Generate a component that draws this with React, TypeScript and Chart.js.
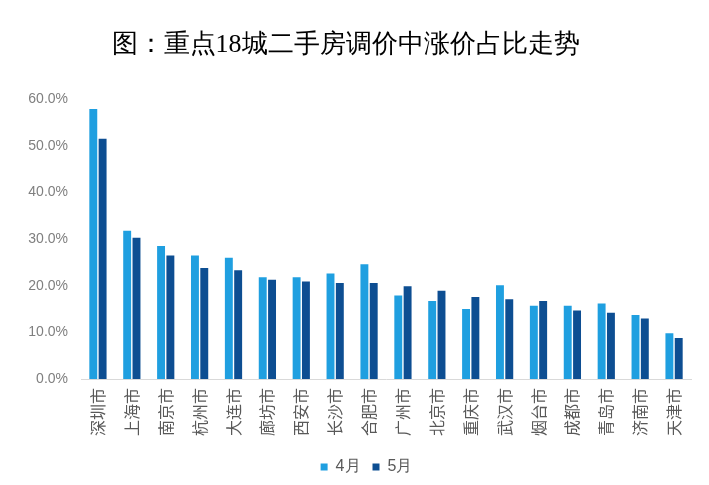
import React, { useEffect, useRef } from "react";
import { Chart, registerables } from "chart.js";

Chart.register(...registerables);

const TITLE = "图：重点18城二手房调价中涨价占比走势";
const CITIES = ["深圳市", "上海市", "南京市", "杭州市", "大连市", "廊坊市", "西安市", "长沙市", "合肥市", "广州市", "北京市", "重庆市", "武汉市", "烟台市", "成都市", "青岛市", "济南市", "天津市"];
const APRIL = [57.9, 31.8, 28.5, 26.5, 26.0, 21.8, 21.8, 22.6, 24.6, 17.9, 16.7, 15.0, 20.1, 15.7, 15.7, 16.2, 13.7, 9.8];
const MAY = [51.5, 30.3, 26.5, 23.8, 23.3, 21.3, 20.9, 20.6, 20.6, 19.9, 18.9, 17.6, 17.1, 16.7, 14.7, 14.2, 13.0, 8.8];
const SERIES_NAMES = ["4月", "5月"];
const Y_TICKS = [0, 10, 20, 30, 40, 50, 60];

const legendShift = {
  id: "legendShift",
  afterLayout(chart: any) {
    const l = chart.legend;
    if (!l) return;
    const dx = 21;
    l.left += dx;
    l.right += dx;
  },
};

export default function App() {
  const ref = useRef<HTMLCanvasElement>(null);
  useEffect(() => {
    if (!ref.current) return;
    const chart = new Chart(ref.current, {
      type: "bar",
      data: {
        labels: CITIES,
        datasets: [
          { label: SERIES_NAMES[0], data: APRIL, backgroundColor: "#1f9fe0", barPercentage: 0.85, categoryPercentage: 0.55 },
          { label: SERIES_NAMES[1], data: MAY, backgroundColor: "#0d4e92", barPercentage: 0.85, categoryPercentage: 0.55 },
        ],
      },
      plugins: [legendShift],
      options: {
        animation: false,
        responsive: false,
        layout: { padding: { left: 0, right: 18, top: 0, bottom: 0 } },
        plugins: {
          title: {
            display: true,
            text: TITLE,
            color: "#000",
            font: { family: "serif", size: 26, weight: "normal" },
            padding: { top: 30, bottom: 38 },
          },
          legend: {
            position: "bottom",
            labels: {
              boxWidth: 7,
              boxHeight: 7,
              color: "#595959",
              font: { family: "'Liberation Sans', Arial, sans-serif", size: 16 },
              padding: 12,
            },
          },
          tooltip: { enabled: false },
        },
        scales: {
          x: {
            grid: { display: false, drawTicks: false },
            border: { display: true, color: "#d9d9d9", width: 1 },
            afterFit: (axis: any) => {
              axis.height = 68;
            },
            ticks: {
              color: "#595959",
              font: { family: "'Noto Sans CJK SC', sans-serif", size: 16 },
              minRotation: 90,
              maxRotation: 90,
              padding: 9,
              autoSkip: false,
            },
          },
          y: {
            min: 0,
            max: 60,
            afterBuildTicks: (axis: any) => {
              axis.ticks = Y_TICKS.map((v) => ({ value: v }));
            },
            afterFit: (axis: any) => {
              axis.width = 81;
            },
            grid: { display: false, drawTicks: false },
            border: { display: false },
            ticks: {
              color: "#7f7f7f",
              font: { family: "'Liberation Sans', Arial, sans-serif", size: 14 },
              padding: 13,
              callback: (v: any) => Number(v).toFixed(1) + "%",
            },
          },
        },
      },
    });
    return () => chart.destroy();
  }, []);
  return (
    <div style={{ position: "fixed", left: 0, top: 0, width: 709, height: 485, background: "#fff" }}>
      <canvas ref={ref} width={709} height={485} style={{ display: "block", width: 709, height: 485 }} />
    </div>
  );
}
